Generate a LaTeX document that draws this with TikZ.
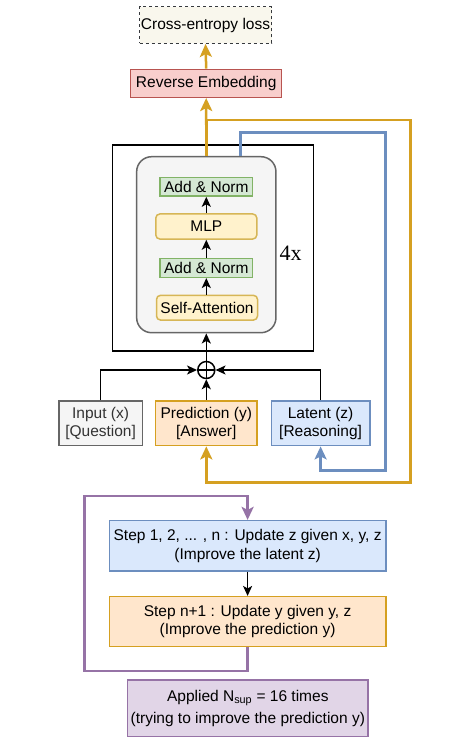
\documentclass[tikz,border=0pt]{standalone}
\usepackage{fontspec}
\setmainfont{Liberation Sans}
\newfontfamily\serifx{Liberation Serif}
\usetikzlibrary{arrows.meta,positioning}
\definecolor{ceFill}{HTML}{F9F7ED}
\definecolor{ceDraw}{HTML}{36393D}
\definecolor{reFill}{HTML}{F8CECC}
\definecolor{reDraw}{HTML}{B85450}
\definecolor{grFill}{HTML}{F5F5F5}
\definecolor{grDraw}{HTML}{666666}
\definecolor{gnFill}{HTML}{D5E8D4}
\definecolor{gnDraw}{HTML}{82B366}
\definecolor{ylFill}{HTML}{FFF2CC}
\definecolor{ylDraw}{HTML}{D6B656}
\definecolor{orFill}{HTML}{FFE6CC}
\definecolor{goldc}{HTML}{D5A021}
\definecolor{blFill}{HTML}{DAE8FC}
\definecolor{blDraw}{HTML}{6C8EBF}
\definecolor{puFill}{HTML}{E1D5E7}
\definecolor{puDraw}{HTML}{9673A6}
\definecolor{txtgray}{HTML}{333333}
\tikzset{
  box/.style={draw, line width=1.5pt, inner sep=0pt, align=center,
    font=\fontsize{15.5}{18.5}\selectfont},
  blk/.style={draw=black, line width=1.6pt, -{Stealth[length=10pt,width=9pt,inset=2.5pt]}},
  goldline/.style={draw=goldc, line width=2.5pt, -{Stealth[length=13pt,width=12pt,inset=3pt]}},
  blueline/.style={draw=blDraw, line width=2.5pt, -{Stealth[length=13pt,width=12pt,inset=3pt]}},
  purpline/.style={draw=puDraw, line width=2.5pt, -{Stealth[length=13pt,width=12pt,inset=3pt]}},
}
\begin{document}
\begin{tikzpicture}[x=1pt,y=-1pt]
\useasboundingbox[fill=white] (0,0) rectangle (474,743);

% top boxes
\node[box, dashed, line width=1.3pt, draw=ceDraw, fill=ceFill, minimum width=132pt, minimum height=36.6pt] (ce) at (205.5,25) {Cross-entropy loss};
\node[box, draw=reDraw, fill=reFill, minimum width=151pt, minimum height=28pt] (re) at (206.2,83.3) {Reverse Embedding};

% transformer block
\node[draw=black, line width=1.6pt, minimum width=201pt, minimum height=206pt, inner sep=0pt] (outer) at (212.8,248) {};
\node[box, draw=grDraw, fill=grFill, rounded corners=15pt, minimum width=139.3pt, minimum height=176pt] (inner) at (206.3,244.7) {};
\node[box, draw=gnDraw, fill=gnFill, minimum width=92.3pt, minimum height=18.7pt] (an1) at (206.3,186.7) {Add \& Norm};
\node[box, draw=ylDraw, fill=ylFill, rounded corners=4pt, minimum width=101pt, minimum height=25pt] (mlp) at (206.3,226.5) {MLP};
\node[box, draw=gnDraw, fill=gnFill, minimum width=92.3pt, minimum height=19pt] (an2) at (206.3,267.8) {Add \& Norm};
\node[box, draw=ylDraw, fill=ylFill, rounded corners=4pt, minimum width=101pt, minimum height=24.7pt] (sa) at (207,307.7) {Self-Attention};
\node[font=\serifx\fontsize{22}{24}\selectfont, inner sep=0pt] (four) at (290.7,253) {4x};

\draw[blk] (sa.north -| an2.south) -- (an2.south);
\draw[blk] (an2.north) -- (mlp.south);
\draw[blk] (mlp.north) -- (an1.south);

% plus
\node[circle, draw=black, line width=1.5pt, minimum size=17pt, inner sep=0pt,
  path picture={\draw[line width=1.5pt] (path picture bounding box.north) -- (path picture bounding box.south)
  (path picture bounding box.west) -- (path picture bounding box.east);}] (plus) at (206.3,370) {};

% inputs
\node[box, draw=grDraw, fill=grFill, text=txtgray, minimum width=83.3pt, minimum height=44.7pt] (input) at (100.6,423.3) {Input (x)\\{[Question]}};
\node[box, draw=goldc, fill=orFill, minimum width=101.3pt, minimum height=44.7pt] (pred) at (206.3,423.3) {Prediction (y)\\{[Answer]}};
\node[box, draw=blDraw, fill=blFill, minimum width=98.7pt, minimum height=44.7pt] (latent) at (320.6,423.3) {Latent (z)\\{[Reasoning]}};

\draw[blk] (plus.north) -- (inner.south);
\draw[blk] (input.north) |- (plus.west);
\draw[blk] (latent.north) |- (plus.east);
\draw[blk] (pred.north) -- (plus.south);

% feedback loops
\coordinate (g1) at (410.7,120);
\coordinate (g2) at (410.7,482.7);
\coordinate (b1) at (385.5,132.7);
\coordinate (b2) at (385.5,470.7);
\draw[goldline] (re.north) -- (ce.south);
\draw[goldline] (inner.north) -- (re.south);
\draw[goldline] (inner.north) |- (g1) -- (g2) -| (pred.south);
\draw[blueline] ([xshift=34pt]inner.north) |- (b1) -- (b2) -| (latent.south);

% bottom steps
\node[box, draw=blDraw, fill=blFill, minimum width=276.7pt, minimum height=50.3pt] (step1) at (247.6,545.8) {Step 1, 2, ... , n : Update z given x, y, z\\(Improve the latent z)};
\node[box, draw=goldc, fill=orFill, minimum width=276.7pt, minimum height=50pt] (stepn) at (247.6,621.7) {Step n+1 : Update y given y, z\\(Improve the prediction y)};
\node[box, draw=puDraw, fill=puFill, minimum width=240.3pt, minimum height=56.7pt] (applied) at (247.8,708.3) {Applied N\textsubscript{sup} = 16 times\\[3pt](trying to improve the prediction y)};

\draw[blk] (step1.south) -- (stepn.north);
\coordinate (p1) at (84.3,671);
\coordinate (p2) at (84.3,496);
\draw[purpline] (stepn.south) |- (p1) -- (p2) -| (step1.north);
\end{tikzpicture}
\end{document}
